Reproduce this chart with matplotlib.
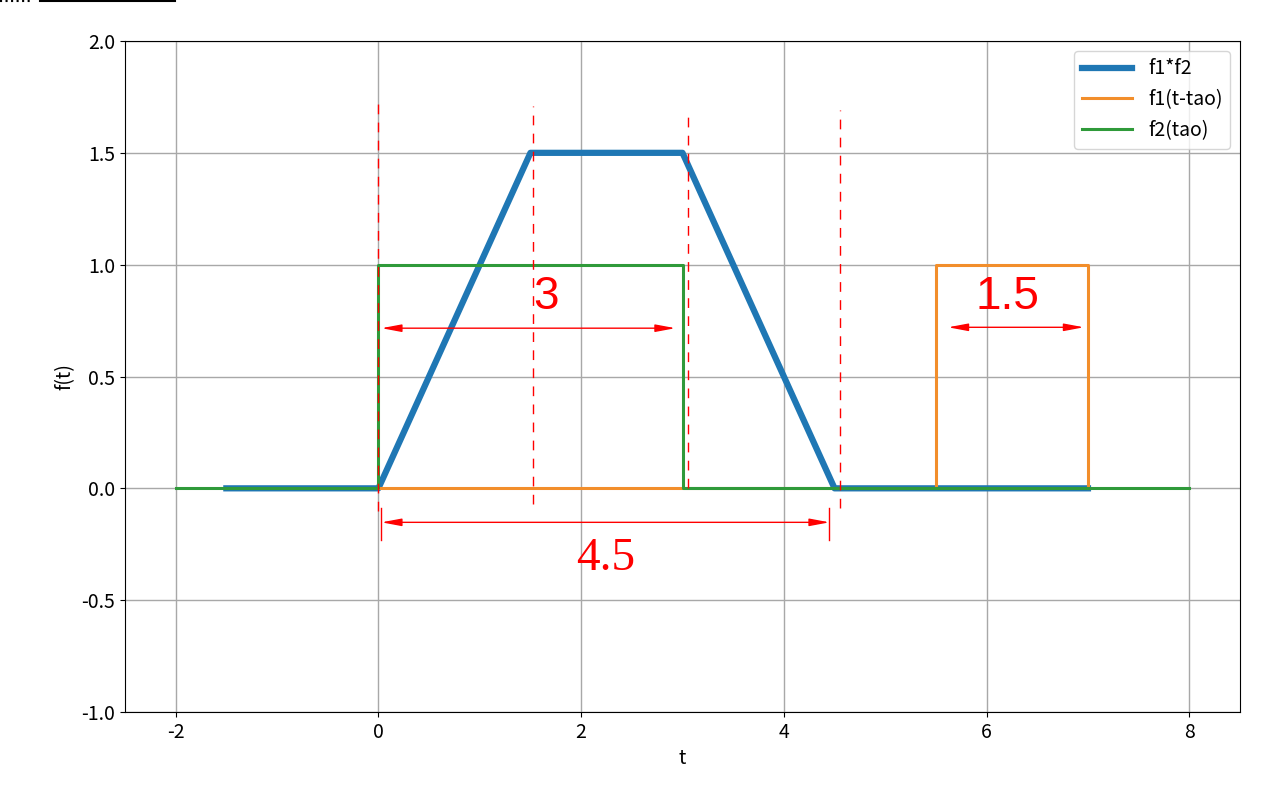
import matplotlib
matplotlib.use('Agg')
import matplotlib.pyplot as plt
from matplotlib.lines import Line2D
from matplotlib import font_manager

names = {f.name for f in font_manager.fontManager.ttflist}
mono = 'Noto Sans Mono CJK SC' if 'Noto Sans Mono CJK SC' in names else 'Noto Sans CJK SC'
plt.rcParams['font.family'] = [mono, 'Noto Sans CJK SC', 'DejaVu Sans']
plt.rcParams['axes.unicode_minus'] = False

# convolution result f1*f2
t_conv = [-1.5, 0, 1.5, 3, 4.5, 7]
y_conv = [0, 0, 1.5, 1.5, 0, 0]
# shifted f1(t-tao)
t_f1 = [0, 5.5, 5.5, 7, 7]
y_f1 = [0, 0, 1, 1, 0]
# f2(tao)
t_f2 = [-2, 0, 0, 3, 3, 8]
y_f2 = [0, 0, 1, 1, 0, 0]

# red dashed guide lines (x, top, bottom)
guide_x = [0, 1.53, 3.05, 4.55]
guide_top = [1.735, 1.71, 1.69, 1.69]
guide_bottom = [-0.1, -0.07, 0.0, -0.09]

# dimension arrows: (x0, x1, y, label, label_x, label_y)
dim_x0 = [0.03, 5.62, 0.03]
dim_x1 = [2.93, 6.96, 4.45]
dim_y = [0.716, 0.72, -0.152]
dim_labels = ['3', '1.5', '4.5']
dim_lx = [1.655, 6.21, 2.24]
dim_ly = [0.855, 0.855, -0.313]

fig = plt.figure(figsize=(12.8, 8), dpi=100)
ax = fig.add_axes([125/1280, 1-712/800, (1240-125)/1280, (712-41)/800])

ax.plot(t_conv, y_conv, label='f1*f2', color='#1f77b4', linewidth=4.5)
ax.plot(t_f1, y_f1, label='f1(t-tao)', color='#f28e2b', linewidth=2.2)
ax.plot(t_f2, y_f2, label='f2(tao)', color='#2f9a3a', linewidth=2.2)

for x, top, bot in zip(guide_x, guide_top, guide_bottom):
    ax.plot([x, x], [bot, top], color='red', linestyle=(0, (7, 6)), linewidth=1)

for x0, x1, y, lab, lx, ly in zip(dim_x0, dim_x1, dim_y, dim_labels, dim_lx, dim_ly):
    ax.annotate('', xy=(x0, y), xytext=(x1, y),
                arrowprops=dict(arrowstyle='<|-|>,head_length=0.8,head_width=0.15',
                                color='red', lw=1, mutation_scale=15,
                                shrinkA=0, shrinkB=0))
    if lab == '4.5':
        ax.text(lx, ly, lab, color='red', fontsize=34, family='Liberation Serif',
                ha='center', va='center')
    else:
        ax.text(lx, ly, lab, color='red', fontsize=33, family='Liberation Sans',
                ha='center', va='center')

# extension ticks for the 4.5 dimension
for x in [dim_x0[2], dim_x1[2]]:
    ax.plot([x, x], [-0.09, -0.23], color='red', linewidth=1)

ax.set_xlim(-2.5, 8.5)
ax.set_ylim(-1.0, 2.0)
ax.set_xticks([-2, 0, 2, 4, 6, 8])
ax.set_yticks([-1.0, -0.5, 0.0, 0.5, 1.0, 1.5, 2.0])
ax.tick_params(labelsize=14)
ax.set_xlabel('t', fontsize=14)
ax.set_ylabel('f(t)', fontsize=14)
ax.grid(True, color='#a8a8a8', linewidth=1)
ax.set_axisbelow(True)
ax.legend(loc='upper right', fontsize=14, handlelength=2.6)

fig.add_artist(Line2D([40/1280, 175/1280], [1-1/800, 1-1/800], color='black',
                      linewidth=1.5, transform=fig.transFigure))
fig.add_artist(Line2D([0, 32/1280], [1-1/800, 1-1/800], color='black',
                      linewidth=1.5, linestyle=':', transform=fig.transFigure))

fig.savefig('out.png', dpi=100)
